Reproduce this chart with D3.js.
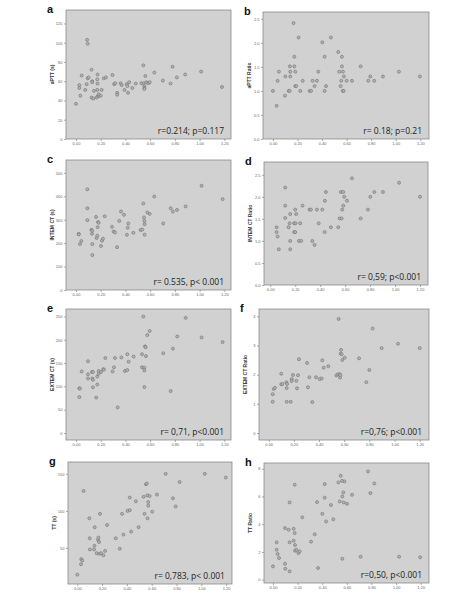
<!DOCTYPE html>
<html lang="en">
<head>
<meta charset="UTF-8">
<title>Scatter panels</title>
<script src="https://cdnjs.cloudflare.com/ajax/libs/d3/7.8.5/d3.min.js"></script>
<style>
    body { margin: 0; padding: 0; background: #fff; overflow: hidden; }
    svg { display: block; }
</style>
</head>
<body>
<svg id="graph" width="474" height="593"></svg>
<script>
    // ---- data ----
    const xTicks = [0, 0.2, 0.4, 0.6, 0.8, 1.0, 1.2];
    const xTickLabels = ["0.00", "0.20", "0.40", "0.60", "0.80", "1.00", "1.20"];

    const aX = [0.09, 0.094, 0, 0.035, 0.027, 0.027, 0.046, 0.075, 0.094, 0.102, 0.086, 0.126, 0.131, 0.131, 0.126, 0.139, 0.145, 0.172, 0.174, 0.174, 0.172, 0.166, 0.177, 0.188, 0.2, 0.183, 0.207, 0.225, 0.242, 0.295, 0.309, 0.317, 0.333, 0.333, 0.36, 0.37, 0.392, 0.41, 0.416, 0.421, 0.43, 0.456, 0.483, 0.529, 0.548, 0.553, 0.553, 0.553, 0.545, 0.561, 0.569, 0.585, 0.596, 0.634, 0.703, 0.765, 0.781, 0.816, 0.883, 1.012, 1.181];
    const aY = [103, 99, 36.5, 45, 53, 56, 66, 51, 63, 64, 57, 72, 60, 59, 43, 42, 50, 62, 67, 57.6, 51, 43, 44.5, 45, 45, 46.5, 51, 63, 64, 66.5, 57, 58, 48, 46, 58, 56, 51, 57, 55, 48, 59, 53, 57.6, 58, 58, 55, 53, 52, 76.5, 65.5, 59, 58, 59, 69, 60.7, 57.6, 75, 64, 67, 70, 54];
    const aTicks = [0, 20, 40, 60, 80, 100, 120];

    const bX = [0, 0.03, 0.038, 0.049, 0.098, 0.101, 0.128, 0.136, 0.138, 0.141, 0.141, 0.168, 0.174, 0.174, 0.182, 0.182, 0.19, 0.209, 0.223, 0.242, 0.299, 0.31, 0.323, 0.339, 0.358, 0.369, 0.402, 0.421, 0.421, 0.432, 0.472, 0.532, 0.54, 0.551, 0.557, 0.562, 0.562, 0.57, 0.578, 0.57, 0.576, 0.6, 0.644, 0.714, 0.777, 0.793, 0.825, 0.896, 1.026, 1.197];
    const bY = [1.0, 0.69, 1.21, 1.4, 0.9, 1.3, 1.0, 1.0, 1.51, 1.4, 1.3, 2.41, 1.51, 1.71, 1.4, 1.1, 1.1, 2.11, 1.0, 1.21, 1.0, 1.0, 1.21, 1.1, 1.21, 1.4, 2.01, 1.71, 1.0, 1.1, 2.11, 1.81, 1.4, 1.1, 1.21, 1.51, 1.71, 1.4, 1.3, 1.0, 1.0, 1.21, 1.21, 1.51, 1.21, 1.3, 1.21, 1.3, 1.4, 1.3];
    const bTicks = [0, 0.5, 1.0, 1.5, 2.0, 2.5];

    const cX = [0.022, 0.022, 0.032, 0.043, 0.092, 0.092, 0.092, 0.124, 0.132, 0.129, 0.132, 0.132, 0.162, 0.167, 0.172, 0.178, 0.175, 0.183, 0.202, 0.21, 0.218, 0.232, 0.291, 0.305, 0.315, 0.332, 0.35, 0.364, 0.388, 0.412, 0.418, 0.423, 0.464, 0.523, 0.536, 0.544, 0.55, 0.553, 0.555, 0.555, 0.577, 0.596, 0.633, 0.706, 0.766, 0.784, 0.817, 0.887, 1.016, 1.186];
    const cY = [240, 237, 196, 209, 430, 349, 298, 257, 253, 240, 196, 149, 312, 222, 232, 290, 268, 287, 188, 210, 219, 315, 270, 250, 246, 183, 295, 335, 321, 236, 266, 284, 244, 256, 258, 369, 310, 295, 281, 236, 331, 325, 399, 284, 349, 335, 342, 357, 445, 388];
    const cTicks = [0, 100, 200, 300, 400, 500];

    const dX = [0.051, 0.051, 0.059, 0.069, 0.12, 0.12, 0.12, 0.147, 0.155, 0.16, 0.16, 0.16, 0.192, 0.192, 0.2, 0.2, 0.208, 0.203, 0.23, 0.24, 0.248, 0.259, 0.315, 0.326, 0.337, 0.355, 0.374, 0.388, 0.417, 0.436, 0.438, 0.446, 0.486, 0.545, 0.556, 0.566, 0.572, 0.577, 0.585, 0.585, 0.593, 0.615, 0.655, 0.724, 0.783, 0.802, 0.834, 0.903, 1.032, 1.2];
    const dY = [1.31, 1.2, 1.1, 0.81, 2.21, 1.8, 1.52, 1.31, 1.4, 1.61, 1.0, 0.81, 1.4, 1.2, 1.2, 1.71, 1.61, 1.4, 1.0, 1.4, 1.0, 1.8, 1.71, 1.71, 1.0, 0.91, 1.71, 1.4, 1.71, 1.2, 1.91, 2.11, 1.31, 1.31, 1.51, 2.11, 1.51, 1.71, 2.11, 1.8, 2.0, 1.91, 2.42, 1.51, 1.71, 2.0, 2.11, 2.11, 2.32, 2.0];
    const dTicks = [0, 0.5, 1.0, 1.5, 2.0, 2.5];

    const eX = [0.027, 0.032, 0.027, 0.046, 0.097, 0.097, 0.097, 0.129, 0.137, 0.132, 0.137, 0.137, 0.164, 0.172, 0.172, 0.183, 0.183, 0.202, 0.221, 0.226, 0.237, 0.296, 0.307, 0.315, 0.337, 0.367, 0.396, 0.415, 0.415, 0.426, 0.466, 0.534, 0.534, 0.544, 0.553, 0.553, 0.553, 0.558, 0.563, 0.566, 0.577, 0.596, 0.706, 0.766, 0.784, 0.819, 0.887, 1.016, 1.186];
    const eY = [95.7, 95.7, 77, 132, 154, 126, 117, 131, 131, 117, 114, 98, 76, 104, 121, 133, 127, 131, 137, 136, 161, 132, 141, 161, 55, 162, 133, 169, 135, 153, 164, 169, 141, 250, 140, 134, 98.6, 186, 184, 165, 210, 219, 171, 90, 181, 207, 247, 205, 195];
    const eTicks = [0, 50, 100, 150, 200, 250];

    const fX = [0.032, 0.032, 0.04, 0.05, 0.1, 0.1, 0.109, 0.14, 0.143, 0.146, 0.143, 0.175, 0.183, 0.183, 0.193, 0.22, 0.225, 0.233, 0.241, 0.305, 0.312, 0.323, 0.347, 0.376, 0.405, 0.421, 0.426, 0.437, 0.474, 0.538, 0.548, 0.556, 0.564, 0.567, 0.57, 0.572, 0.575, 0.58, 0.585, 0.604, 0.718, 0.776, 0.8, 0.826, 0.898, 1.028, 1.2];
    const fY = [1.33, 1.07, 1.51, 1.55, 2.03, 1.67, 1.68, 1.74, 1.07, 1.68, 1.54, 1.07, 1.85, 1.78, 1.99, 1.79, 1.53, 1.98, 2.53, 2.4, 1.57, 1.91, 1.06, 1.91, 1.85, 1.87, 2.49, 2.24, 2.29, 1.97, 2.01, 3.91, 2.02, 1.9, 1.98, 2.72, 2.85, 2.7, 2.5, 2.58, 2.56, 1.74, 2.16, 3.58, 2.91, 3.06, 2.91];
    const fTicks = [0, 1, 2, 3, 4];

    const gX = [0, 0.03, 0.032, 0.04, 0.051, 0.097, 0.1, 0.102, 0.135, 0.138, 0.14, 0.156, 0.167, 0.17, 0.175, 0.183, 0.178, 0.191, 0.21, 0.224, 0.24, 0.31, 0.342, 0.361, 0.372, 0.405, 0.423, 0.423, 0.434, 0.472, 0.494, 0.534, 0.542, 0.553, 0.561, 0.564, 0.566, 0.572, 0.572, 0.583, 0.604, 0.642, 0.712, 0.771, 0.793, 0.825, 1.028, 1.197];
    const gY = [14, 28, 35, 33, 127, 90, 63, 48, 48, 53, 78, 43, 61, 64, 58, 96, 42, 43, 40, 46, 81, 63, 49, 96, 68, 100, 101, 118, 72, 113, 78, 119, 96, 136, 137, 121, 90, 107, 112, 120, 99, 122, 150, 117, 106, 139, 150, 145];
    const gTicks = [50, 100, 150];

    const hX = [0, 0.03, 0.03, 0.038, 0.049, 0.098, 0.098, 0.1, 0.127, 0.135, 0.135, 0.135, 0.168, 0.168, 0.176, 0.176, 0.179, 0.179, 0.19, 0.206, 0.217, 0.238, 0.309, 0.339, 0.358, 0.366, 0.401, 0.42, 0.42, 0.431, 0.471, 0.49, 0.531, 0.542, 0.55, 0.561, 0.563, 0.563, 0.571, 0.574, 0.58, 0.601, 0.642, 0.712, 0.772, 0.791, 0.823, 1.024, 1.195];
    const hY = [0.96, 2.69, 2.16, 1.85, 1.56, 3.72, 1.15, 0.79, 3.6, 2.69, 5.57, 0.6, 2.81, 3.67, 6.84, 3.36, 2.5, 2.09, 2.16, 1.92, 2.04, 4.49, 2.74, 3.27, 5.59, 0.84, 4.75, 6.89, 5.91, 4.2, 5.38, 4.35, 7.01, 5.64, 7.49, 7.13, 6.0, 1.51, 6.29, 5.57, 7.08, 5.47, 6.12, 1.66, 7.8, 6.24, 6.94, 1.66, 1.61];
    const hTicks = [0, 2, 4, 6, 8];

    const letters = ["a", "b", "c", "d", "e", "f", "g", "h"];
    const yTitles = ["aPTT (s)", "aPTT Ratio", "INTEM CT (s)", "INTEM CT Ratio", "EXTEM CT (s)", "EXTEM CT Ratio", "TT (s)", "TT Ratio"];
    const stats = ["r=0.214; p=0.117", "r= 0.18; p=0.21", "r= 0.535, p< 0.001", "r= 0,59; p<0.001", "r= 0,71, p<0.001", "r=0,76; p<0.001", "r= 0,783, p< 0.001", "r=0,50, p<0.001"];

    // ---- layout: plot boxes and axis ranges ----
    const panels = [
        {xs: aX, ys: aY, yt: aTicks, fmt: "d",   box: [66, 231, 10, 139],  xd: [-0.081, 1.254], yd: [0, 134]},
        {xs: bX, ys: bY, yt: bTicks, fmt: ".1f", box: [263, 429, 12, 139], xd: [-0.081, 1.271], yd: [0, 2.64]},
        {xs: cX, ys: cY, yt: cTicks, fmt: "d",   box: [66, 231, 160, 290], xd: [-0.081, 1.254], yd: [0, 555]},
        {xs: dX, ys: dY, yt: dTicks, fmt: ".1f", box: [264, 428, 162, 285], xd: [-0.05, 1.264], yd: [0, 2.79]},
        {xs: eX, ys: eY, yt: eTicks, fmt: "d",   box: [66, 231, 309, 440], xd: [-0.081, 1.254], yd: [-15, 266]},
        {xs: fX, ys: fY, yt: fTicks, fmt: "d",   box: [259, 429, 309, 440], xd: [-0.077, 1.274], yd: [-0.24, 4.25]},
        {xs: gX, ys: gY, yt: gTicks, fmt: "d",   box: [68, 232, 462, 584], xd: [-0.075, 1.247], yd: [1.35, 166]},
        {xs: hX, ys: hY, yt: hTicks, fmt: "d",   box: [264, 429, 463, 583], xd: [-0.073, 1.267], yd: [-0.24, 8.41]}
    ];

    const svg = d3.select("#graph");

    panels.forEach((p, i) => {
        const [x0, x1, y0, y1] = p.box;
        const x = d3.scaleLinear().domain(p.xd).range([x0, x1]);
        const y = d3.scaleLinear().domain(p.yd).range([y1, y0]);
        const g = svg.append("g");

        g.append("rect")
            .attr("x", x0).attr("y", y0)
            .attr("width", x1 - x0).attr("height", y1 - y0)
            .attr("fill", "#d0d1d0")
            .attr("stroke", "#8a8a8a")
            .attr("stroke-width", 0.8);

        // axes
        const xAxis = d3.axisBottom(x).tickValues(xTicks)
            .tickFormat((d, k) => xTickLabels[k]).tickSize(2).tickPadding(1);
        const yAxis = d3.axisLeft(y).tickValues(p.yt)
            .tickFormat(d3.format(p.fmt)).tickSize(2).tickPadding(1.5);

        [g.append("g").attr("transform", `translate(0,${y1})`).call(xAxis),
         g.append("g").attr("transform", `translate(${x0},0)`).call(yAxis)]
            .forEach(ax => {
                ax.select(".domain").remove();
                ax.selectAll("line").attr("stroke", "#777").attr("stroke-width", 0.6);
                ax.selectAll("text").attr("fill", "#666")
                    .style("font", "4px 'Liberation Sans', Arial, sans-serif");
            });

        // y title
        g.append("text")
            .attr("transform", `translate(${x0 - 12},${(y0 + y1) / 2}) rotate(-90)`)
            .attr("text-anchor", "middle")
            .attr("fill", "#333")
            .style("font", "bold 5px 'Liberation Sans', Arial, sans-serif")
            .text(yTitles[i]);

        // points
        g.selectAll("circle")
            .data(p.xs.map((v, k) => [v, p.ys[k]]))
            .enter().append("circle")
            .attr("cx", d => x(d[0]))
            .attr("cy", d => y(d[1]))
            .attr("r", 1.5)
            .attr("fill", "#b4b4b4")
            .attr("stroke", "#6e6e6e")
            .attr("stroke-width", 0.6);

        // correlation text
        g.append("text")
            .attr("x", x1 - 7)
            .attr("y", y1 - 5)
            .attr("text-anchor", "end")
            .attr("fill", "#222")
            .style("font", "8.5px 'Open Sans', 'DejaVu Sans', sans-serif")
            .text(stats[i]);

        // panel letter
        svg.append("text")
            .attr("x", x0 - 19)
            .attr("y", y0 + 3)
            .attr("fill", "#111")
            .style("font", "bold 11px 'Liberation Sans', Arial, sans-serif")
            .text(letters[i]);
    });
</script>
</body>
</html>
